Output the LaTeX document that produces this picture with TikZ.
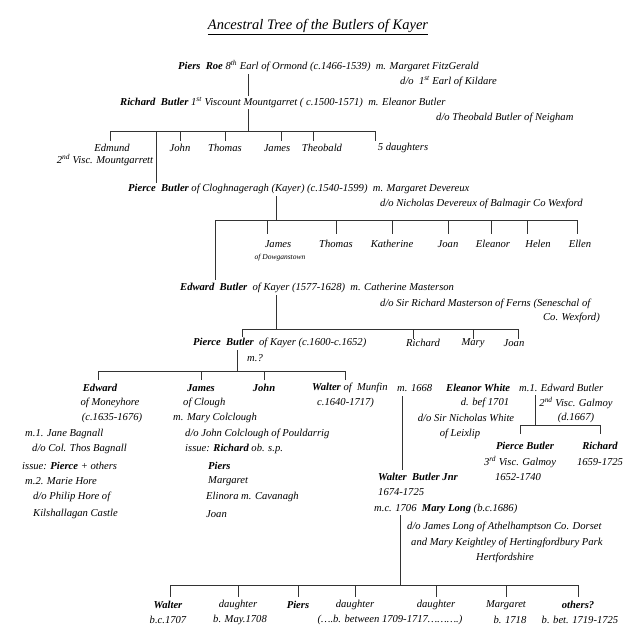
\documentclass[tikz,border=0pt]{standalone}
\usepackage{fontspec}
\setmainfont{Liberation Serif}
\begin{document}
\begin{tikzpicture}[x=1pt,y=-1pt,
  every node/.style={inner sep=0pt,font=\fontsize{10.6}{12}\selectfont\itshape},
  tl/.style={anchor=west},
  ln/.style={draw=black!80,line width=0.6pt}]
\useasboundingbox (0,0) rectangle (640,640);
\node (title) at (318,27) {\fontsize{14.5}{16}\selectfont\underline{Ancestral Tree of the Butlers of Kayer}};
% generation 1
\node[tl] (piers) at (178,66) {\textbf{Piers\ \ Roe} 8\textsuperscript{th} Earl of Ormond (c.1466-1539)\ \ m. Margaret FitzGerald};
\node[tl] (piersd) at (400,82) {d/o\ \ 1\textsuperscript{st} Earl of Kildare};
\coordinate (p1) at (248,74);
% generation 2
\node[tl] (rich) at (120,103) {\textbf{Richard\ \ Butler} 1\textsuperscript{st} Viscount Mountgarret ( c.1500-1571)\ \ m. Eleanor Butler};
\node[tl] (richd) at (436,118) {d/o Theobald Butler of Neigham};
\coordinate (p2) at (248,96);
\draw[ln] (p1) -- (p2);
\coordinate (r1) at (248,109);
\coordinate (r2) at (248,131);
\draw[ln] (r1) -- (r2);
\coordinate (hl2) at (110,131); \coordinate (hr2) at (375,131);
\draw[ln] (hl2) -- (hr2);
\node (edm) at (112,148) {Edmund};
\node (edm2) at (105,160) {2\textsuperscript{nd} Visc. Mountgarrett};
\node (john) at (180,148) {John};
\node (thom) at (225,148) {Thomas};
\node (jam) at (277,148) {James};
\node (theo) at (322,148) {Theobald};
\node (dau5) at (403,148) {5 daughters};
\foreach \x in {110,180,225,281,313,375} \draw[ln] (\x,131) -- (\x,141);
\coordinate (a3) at (156,131); \coordinate (b3) at (156,183);
\draw[ln] (a3) -- (b3);
% generation 3
\node[tl] (pier) at (128,189) {\textbf{Pierce\ \ Butler} of Cloghnageragh (Kayer) (c.1540-1599)\ \ m. Margaret Devereux};
\node[tl] (pierd) at (380,204) {d/o Nicholas Devereux of Balmagir Co Wexford};
\coordinate (c4) at (276,196); \coordinate (d4) at (276,220);
\draw[ln] (c4) -- (d4);
\draw[ln] (215,220) -- (577,220);
\foreach \x in {267,336,392,448,491,527,577} \draw[ln] (\x,220) -- (\x,234);
\node (jam2) at (278,244) {James};
\node (dow) at (280,258) {\fontsize{7.5}{8}\selectfont of Dowganstown};
\node (thom2) at (336,244) {Thomas};
\node (kath) at (392,244) {Katherine};
\node (joan) at (448,244) {Joan};
\node (elea) at (493,244) {Eleanor};
\node (hel) at (538,244) {Helen};
\node (ell) at (580,244) {Ellen};
\draw[ln] (215,220) -- (215,280);
% generation 4
\node[tl] (edw) at (180,288) {\textbf{Edward\ \ Butler}\ \ of Kayer (1577-1628)\ \ m. Catherine Masterson};
\node[tl] (edwd) at (380,304) {d/o Sir Richard Masterson of Ferns (Seneschal of};
\node[anchor=east] (edwd2) at (600,318) {Co. Wexford)};
\draw[ln] (276,295) -- (276,329);
\draw[ln] (242,329) -- (518,329);
\foreach \x in {413,473,518} \draw[ln] (\x,329) -- (\x,339);
\draw[ln] (242,329) -- (242,337);
% generation 5
\node[tl] (pk) at (193,343) {\textbf{Pierce\ \ Butler}\ \ of Kayer (c.1600-c.1652)};
\node (rich5) at (423,343) {Richard};
\node (mary5) at (473,343) {Mary};
\node (joan5) at (514,343) {Joan};
\node (mq) at (255,358) {m.?};
\draw[ln] (237,350) -- (237,371);
\draw[ln] (98,371) -- (345,371);
\foreach \x in {98,201,264,345} \draw[ln] (\x,371) -- (\x,380);
% Edward column
\node (ed6) at (100,388) {\textbf{Edward}};
\node (ed6a) at (110,403) {of Moneyhore};
\node (ed6b) at (112,418) {(c.1635-1676)};
\node[tl] at (25,434) {m.1. Jane Bagnall};
\node[tl] at (32,449) {d/o Col. Thos Bagnall};
\node[tl] at (22,466) {issue: \textbf{Pierce} + others};
\node[tl] at (25,481) {m.2. Marie Hore};
\node[tl] at (33,497) {d/o Philip Hore of};
\node[tl] at (33,514) {Kilshallagan Castle};
% James column
\node (jm6) at (201,388) {\textbf{James}};
\node (jn6) at (264,388) {\textbf{John}};
\node[tl] at (183,403) {of Clough};
\node[tl] at (173,418) {m. Mary Colclough};
\node[tl] at (185,434) {d/o John Colclough of Pouldarrig};
\node[tl] at (185,449) {issue: \textbf{Richard} ob. s.p.};
\node[tl] at (208,466) {\textbf{Piers}};
\node[tl] at (208,481) {Margaret};
\node[tl] at (206,497) {Elinora m. Cavanagh};
\node[tl] at (206,514) {Joan};
% Walter
\node[tl] (wal) at (312,388) {\textbf{Walter} of\ \ Munfin};
\node[tl] (m1668) at (397,388) {m. 1668};
\node[tl] (ew) at (446,388) {\textbf{Eleanor White}};
\node[tl] (meb) at (519,388) {m.1. Edward Butler};
\node[tl] at (317,403) {c.1640-1717)};
\node at (485,403) {d. bef 1701};
\node at (576,403) {2\textsuperscript{nd} Visc. Galmoy};
\node at (466,418) {d/o Sir Nicholas White};
\node at (576,418) {(d.1667)};
\node at (460,434) {of Leixlip};
\draw[ln] (535,395) -- (535,425);
\draw[ln] (520,425) -- (600,425);
\draw[ln] (520,425) -- (520,434); \draw[ln] (600,425) -- (600,434);
\node (pg) at (525,446) {\textbf{Pierce Butler}};
\node (rg) at (600,446) {\textbf{Richard}};
\node at (520,462) {3\textsuperscript{rd} Visc. Galmoy};
\node at (600,462) {1659-1725};
\node at (518,477) {1652-1740};
\draw[ln] (402,396) -- (402,470);
\node[tl] (wj) at (378,477) {\textbf{Walter\ \ Butler Jnr}};
\node[tl] at (378,492) {1674-1725};
\node[tl] at (374,509) {m.c. 1706\ \ \textbf{Mary Long} (b.c.1686)};
\node[tl] at (407,527) {d/o James Long of Athelhamptson Co. Dorset};
\node[tl] at (411,543) {and Mary Keightley of Hertingfordbury Park};
\node at (505,558) {Hertfordshire};
\draw[ln] (400,515) -- (400,585);
\draw[ln] (170,585) -- (578,585);
\foreach \x in {170,238,298,355,436,506,578} \draw[ln] (\x,585) -- (\x,597);
\node at (168,605) {\textbf{Walter}};
\node at (238,605) {daughter};
\node at (298,605) {\textbf{Piers}};
\node at (355,605) {daughter};
\node at (436,605) {daughter};
\node at (506,605) {Margaret};
\node at (578,605) {\textbf{others?}};
\node at (168,620) {b.c.1707};
\node at (240,620) {b. May.1708};
\node at (390,620) {(\dots.b. between 1709-1717\dots\dots\dots.)};
\node at (510,620) {b. 1718};
\node at (580,620) {b. bet. 1719-1725};
\end{tikzpicture}
\end{document}
